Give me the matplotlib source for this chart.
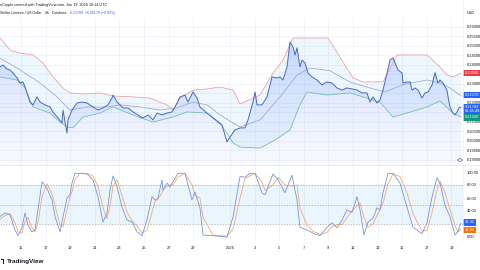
import matplotlib
matplotlib.use("Agg")
import matplotlib.pyplot as plt
import matplotlib.transforms as mtrans
from matplotlib.patches import Polygon
import numpy as np

plt.rcParams['font.family'] = ['Liberation Sans', 'DejaVu Sans']

# ---------------- data (day numbers: Dec 15 = 15, Jan 1 2026 = 32) ----------------
price_day = [13.29, 13.54, 13.86, 14.11, 14.35, 14.68, 14.92, 15.16, 15.33, 15.49,
             15.73, 15.98, 16.30, 16.55, 16.95, 17.36, 17.60, 18.01, 18.33, 18.42,
             18.58, 18.74, 18.82, 19.15, 19.55, 19.96, 20.37, 20.85, 21.26, 21.67,
             22.07, 22.40, 22.48, 22.81, 23.05, 23.29, 23.70, 24.11, 24.51, 24.92,
             25.33, 25.73, 26.06, 26.46, 26.87, 27.28, 27.52, 27.93, 28.33, 28.58,
             28.98, 29.31, 29.55, 30.12, 30.61, 31.02, 31.34, 31.75, 31.99, 32.40,
             32.81, 33.21, 33.46, 33.86, 34.03, 34.19, 34.59, 35.00, 35.41, 35.81,
             36.06, 36.30, 36.63, 36.87, 37.11, 37.28, 37.44, 37.68, 37.85, 38.09,
             38.33, 38.66, 39.07, 39.47, 39.88, 40.29, 40.69, 41.10, 41.50, 41.91,
             42.32, 42.72, 43.13, 43.37, 43.62, 43.94, 44.19, 44.43, 44.76, 45.00,
             45.24, 45.41, 45.65, 45.98, 46.06, 46.38, 46.63, 46.79, 47.03, 47.28,
             47.60, 47.85, 48.09, 48.42, 48.66, 48.90, 49.07, 49.31, 49.63, 49.72,
             49.88, 50.12, 50.29, 50.45, 50.62, 50.77]
price_val = [0.2391, 0.2400, 0.2379, 0.2374, 0.2358, 0.2332, 0.2305, 0.2311, 0.2284, 0.2253,
             0.2205, 0.2190, 0.2232, 0.2205, 0.2190, 0.2179, 0.2153, 0.2121, 0.2095, 0.2163,
             0.2100, 0.2042, 0.2111, 0.2163, 0.2200, 0.2205, 0.2200, 0.2179, 0.2163, 0.2174,
             0.2190, 0.2226, 0.2242, 0.2205, 0.2190, 0.2174, 0.2174, 0.2153, 0.2137, 0.2121,
             0.2137, 0.2111, 0.2147, 0.2137, 0.2147, 0.2153, 0.2179, 0.2232, 0.2242, 0.2205,
             0.2258, 0.2226, 0.2179, 0.2147, 0.2121, 0.2100, 0.2084, 0.1995, 0.2021, 0.2058,
             0.2069, 0.2069, 0.2111, 0.2205, 0.2258, 0.2190, 0.2190, 0.2232, 0.2337, 0.2332,
             0.2337, 0.2321, 0.2390, 0.2521, 0.2495, 0.2453, 0.2490, 0.2390, 0.2426, 0.2411,
             0.2358, 0.2337, 0.2321, 0.2295, 0.2311, 0.2305, 0.2279, 0.2268, 0.2279, 0.2274,
             0.2268, 0.2253, 0.2253, 0.2205, 0.2232, 0.2200, 0.2216, 0.2268, 0.2358, 0.2426,
             0.2437, 0.2411, 0.2374, 0.2358, 0.2305, 0.2311, 0.2311, 0.2268, 0.2279, 0.2268,
             0.2226, 0.2253, 0.2258, 0.2295, 0.2360, 0.2305, 0.2321, 0.2305, 0.2268, 0.2232,
             0.2179, 0.2147, 0.2137, 0.2153, 0.2174, 0.2179]

upper_day = [13.29, 14.11, 14.92, 15.98, 16.79, 17.60, 18.42, 18.98, 20.04, 21.42,
             22.48, 24.11, 25.49, 26.87, 27.36, 27.93, 28.98, 30.12, 31.18, 32.24,
             32.81, 34.43, 35.49, 36.30, 37.11, 39.96, 41.99, 42.80, 44.43, 45.57,
             48.01, 49.07, 49.63, 50.12, 50.77]
upper_val = [0.2542, 0.2479, 0.2463, 0.2453, 0.2411, 0.2337, 0.2279, 0.2253, 0.2247, 0.2253,
             0.2237, 0.2232, 0.2226, 0.2190, 0.2163, 0.2226, 0.2268, 0.2274, 0.2284, 0.2268,
             0.2195, 0.2242, 0.2358, 0.2426, 0.2542, 0.2542, 0.2332, 0.2311, 0.2311, 0.2453,
             0.2453, 0.2389, 0.2347, 0.2337, 0.2358]

basis_day = [13.29, 14.92, 16.55, 17.93, 18.98, 20.37, 21.99, 23.05, 24.68, 26.30,
             27.68, 28.98, 30.12, 31.18, 32.24, 32.81, 34.43, 36.06, 37.44, 38.50,
             40.12, 41.75, 43.37, 44.59, 46.22, 48.01, 49.07, 49.88, 50.77]
basis_val = [0.2437, 0.2374, 0.2305, 0.2232, 0.2163, 0.2179, 0.2179, 0.2190, 0.2179, 0.2163,
             0.2174, 0.2205, 0.2190, 0.2137, 0.2095, 0.2074, 0.2111, 0.2232, 0.2347, 0.2384,
             0.2370, 0.2310, 0.2279, 0.2258, 0.2300, 0.2321, 0.2305, 0.2279, 0.2237]

lower_day = [13.29, 14.68, 15.33, 15.98, 17.36, 18.17, 18.74, 19.23, 20.04, 21.42,
             22.48, 24.11, 25.73, 27.36, 28.50, 30.12, 31.18, 32.24, 32.81, 34.43,
             35.65, 36.87, 37.68, 38.25, 39.88, 41.75, 44.19, 45.24, 46.38, 48.01,
             49.07, 50.12, 50.77]
lower_val = [0.2337, 0.2321, 0.2279, 0.2179, 0.2147, 0.2100, 0.2074, 0.2069, 0.2126, 0.2147,
             0.2179, 0.2137, 0.2100, 0.2126, 0.2153, 0.2147, 0.2095, 0.1990, 0.1968, 0.1963,
             0.2005, 0.2058, 0.2190, 0.2258, 0.2242, 0.2253, 0.2205, 0.2126, 0.2147, 0.2179,
             0.2211, 0.2147, 0.2126]

stoch_day = [13.29, 13.70, 14.11, 14.51, 14.76, 15.08, 15.33, 15.57, 15.89, 16.14,
             16.38, 16.71, 17.11, 17.52, 17.77, 18.17, 18.42, 18.74, 18.98, 19.15,
             19.39, 19.80, 20.37, 20.85, 21.26, 21.67, 21.99, 22.24, 22.48, 22.81,
             23.21, 23.62, 24.03, 24.43, 24.84, 25.24, 25.65, 25.89, 26.14, 26.46,
             26.55, 26.87, 27.11, 27.36, 27.76, 28.33, 28.90, 29.15, 29.55, 29.80,
             30.61, 31.75, 32.24, 32.81, 33.21, 33.62, 34.03, 34.59, 34.84, 35.49,
             35.90, 36.46, 37.03, 37.44, 37.68, 38.25, 38.74, 39.31, 39.88, 40.29,
             40.69, 41.10, 41.50, 41.91, 42.32, 42.56, 42.89, 43.21, 43.62, 43.94,
             44.19, 44.43, 44.84, 45.24, 45.81, 46.38, 46.87, 47.60, 48.01, 48.42,
             48.82, 49.07, 49.47, 49.88, 50.29, 50.53, 50.77]
stoch_k = [31, 37, 34, 11, 2, 15, 37, 18, 8, 11,
           42, 85, 75, 57, 31, 8, 31, 60, 65, 83,
           98, 98, 97, 88, 62, 23, 37, 72, 94, 77,
           46, 26, 23, 8, 2, 26, 62, 57, 60, 88,
           72, 83, 77, 85, 98, 98, 57, 69, 45, 3,
           2, 0, 31, 93, 92, 98, 98, 68, 65, 97,
           88, 68, 95, 57, 15, 11, 6, 2, 15, 22,
           14, 26, 42, 38, 62, 42, 3, 23, 29, 45,
           42, 68, 98, 98, 83, 46, 15, 5, 22, 62,
           91, 83, 49, 31, 3, 9, 21]
stoch_d = [27, 33, 36, 22, 8, 6, 24, 30, 14, 8,
           22, 62, 82, 66, 48, 18, 16, 42, 62, 70,
           88, 98, 98, 94, 78, 45, 28, 48, 78, 88,
           64, 38, 25, 17, 6, 10, 38, 55, 58, 68,
           74, 78, 80, 80, 92, 98, 80, 64, 60, 30,
           3, 1, 12, 60, 90, 94, 98, 85, 72, 80,
           92, 80, 78, 80, 45, 18, 9, 4, 7, 16,
           19, 19, 30, 40, 48, 52, 30, 15, 20, 33,
           42, 52, 82, 97, 93, 68, 36, 9, 10, 38,
           72, 86, 68, 42, 18, 7, 13]

tick_days = [15, 17, 19, 21, 23, 25, 27, 29, 32, 34, 36, 38, 40, 42, 44, 46, 48, 50]
tick_labels = ["15", "17", "19", "21", "23", "25", "27", "29", "2026",
               "3", "5", "7", "9", "11", "13", "15", "17", "19"]
price_ticks = [0.190, 0.195, 0.200, 0.205, 0.210, 0.215, 0.220, 0.225, 0.230,
               0.235, 0.240, 0.245, 0.250, 0.255, 0.260]
price_ticks_hidden = [0.215, 0.225, 0.235]
stoch_ticks = [0, 20, 40, 60, 80, 100]
stoch_ticks_hidden = [20]

last_price = 0.21789
price_change = "\u22120.00179 (\u22120.82%)"
stoch_k_last = 21.32
stoch_d_last = 12.94

# ---------------- figure ----------------
W, H = 480, 270
fig = plt.figure(figsize=(W / 100, H / 100), dpi=100)
fig.patch.set_facecolor("white")

def fx(px):
    return px / W

def fy(py):
    return 1 - py / H

plot_right = 463
x0 = 13.293
x1 = x0 + plot_right / 12.3

axp = fig.add_axes([0, fy(165), fx(plot_right), (165 - 18) / H])
axs = fig.add_axes([0, fy(241), fx(plot_right), (241 - 165) / H])

pmin, pmax = 0.27421 - 165 / 1900, 0.27421 - 18 / 1900
smin, smax = -(241 - 237) / 0.65, 100 + (172 - 165) / 0.65

grid_c = "#f0f3fa"
text_c = "#131722"
fs = 2.9

for ax in (axp, axs):
    ax.set_xlim(x0, x1)
    for s in ax.spines.values():
        s.set_visible(False)
    ax.set_facecolor("none")
    for d in tick_days:
        ax.axvline(d, color=grid_c, lw=0.6, zorder=0)

# price pane
axp.set_ylim(pmin, pmax)
for t in price_ticks:
    axp.axhline(t, color=grid_c, lw=0.6, zorder=0)

band_poly = list(zip(upper_day, upper_val)) + list(zip(lower_day[::-1], lower_val[::-1]))
axp.add_patch(Polygon(band_poly, closed=True, fc=(0.13, 0.59, 0.95, 0.07), ec="none", zorder=1))

area_verts = list(zip(price_day, price_val)) + [(price_day[-1], pmin), (price_day[0], pmin)]
area = Polygon(area_verts, closed=True, fc="none", ec="none", zorder=1)
axp.add_patch(area)
n = 256
grad = np.zeros((n, 1, 4))
grad[..., 0] = 41 / 255
grad[..., 1] = 98 / 255
grad[..., 2] = 1.0
grad[:, 0, 3] = np.linspace(0.20, 0.03, n)
im = axp.imshow(grad, extent=[x0, x1, pmin, max(price_val)], aspect="auto",
                origin="upper", zorder=1.2, interpolation="bilinear")
im.set_clip_path(area)
axp.set_xlim(x0, x1)
axp.set_ylim(pmin, pmax)

axp.plot(upper_day, upper_val, color="#ec9aa2", lw=0.55, zorder=2)
axp.plot(basis_day, basis_val, color="#98a7cc", lw=0.55, zorder=2)
axp.plot(lower_day, lower_val, color="#6db9aa", lw=0.55, zorder=2)
axp.axhline(last_price, color="#c2cbe0", lw=0.5, ls=(0, (1, 1.5)), zorder=2)
axp.plot(price_day, price_val, color="#4667c9", lw=0.7, zorder=3)

axp.set_xticks([])
axp.yaxis.tick_right()
axp.set_yticks(price_ticks)
axp.set_yticklabels(["" if t in price_ticks_hidden else f"{t:.5f}" for t in price_ticks])
axp.tick_params(axis="y", length=0, pad=3.0, labelsize=fs, labelcolor=text_c)

fig.add_artist(plt.Line2D([0, 1], [fy(165), fy(165)], color="#e0e3eb", lw=0.6))
fig.add_artist(plt.Line2D([fx(plot_right), fx(plot_right)], [fy(241), 1], color="#eef0f5", lw=0.5))

# stoch pane
axs.set_ylim(smin, smax)
axs.axhspan(20, 80, color=(0.13, 0.59, 0.95, 0.09), lw=0, zorder=0.5)
for lvl in (80, 50, 20):
    axs.axhline(lvl, color="#9aa3b5", lw=0.5, ls=(0, (2, 2)), zorder=1)
axs.plot(stoch_day, stoch_d, color="#f2a35e", lw=0.55, zorder=2)
axs.plot(stoch_day, stoch_k, color="#6f8cdc", lw=0.55, zorder=3)
axs.yaxis.tick_right()
axs.set_yticks(stoch_ticks)
axs.set_yticklabels(["" if t in stoch_ticks_hidden else f"{t:.2f}" for t in stoch_ticks])
axs.tick_params(axis="y", length=0, pad=3.0, labelsize=fs, labelcolor=text_c)
axs.set_xticks(tick_days)
axs.set_xticklabels(tick_labels)
axs.tick_params(axis="x", length=0, pad=3.5, labelsize=fs, labelcolor=text_c)

def tag(ax, val, txt, color):
    tr = mtrans.blended_transform_factory(ax.transAxes, ax.transData)
    ax.text(1.003, val, txt, transform=tr, fontsize=fs, color="white", va="center", ha="left",
            clip_on=False, zorder=20, linespacing=1.0,
            bbox=dict(boxstyle="square,pad=0.3", fc=color, ec="none"))

tag(axp, upper_val[-1], f"{upper_val[-1]:.5f}", "#f23645")
tag(axp, basis_val[-1] + 0.0004, f"{basis_val[-1]:.5f}", "#2962ff")
tag(axp, last_price - 0.0012, f"{last_price:.5f}\n01:45:48", "#2962ff")
tag(axp, lower_val[-1] - 0.0002, f"{lower_val[-1]:.5f}", "#089981")
tag(axs, stoch_k_last + 1, f"{stoch_k_last:.2f}", "#2962ff")
tag(axs, stoch_d_last - 2, f"{stoch_d_last:.2f}", "#ff6d00")

fig.add_artist(plt.Circle((fx(460), fy(160)), 2.2 / W, transform=fig.transFigure,
                          fc="white", ec="#7e57c2", lw=0.6))

# header
fig.text(fx(0), fy(5), "nCrypto created with TradingView.com, Jan 19, 2026 18:14 UTC",
         fontsize=2.7, color=text_c, va="center", ha="left")
t2 = fig.text(fx(0), fy(13), "Stellar Lumens / US Dollar \u00b7 4h \u00b7 Coinbase",
              fontsize=2.5, color=text_c, va="center", ha="left")
fig.canvas.draw()
bb = t2.get_window_extent(renderer=fig.canvas.get_renderer())
fig.text(bb.x1 / W + fx(3), fy(13), f"{last_price:.5f}  {price_change}",
         fontsize=2.5, color="#2962ff", va="center", ha="left")
fig.text(fx(467), fy(13), "USD", fontsize=fs, color=text_c, va="center", ha="left")

# TradingView logo
fig.add_artist(Polygon([[fx(1), fy(258.5)], [fx(4), fy(258.5)], [fx(4), fy(264)], [fx(2.5), fy(264)],
                        [fx(2.5), fy(260)], [fx(1), fy(260)]], closed=True,
                       transform=fig.transFigure, fc=text_c, ec="none"))
fig.text(fx(7), fy(261.5), "TradingView", fontsize=4.6, fontweight="bold", color=text_c,
         va="center", ha="left")

fig.savefig("out.png", dpi=100, facecolor="white")
